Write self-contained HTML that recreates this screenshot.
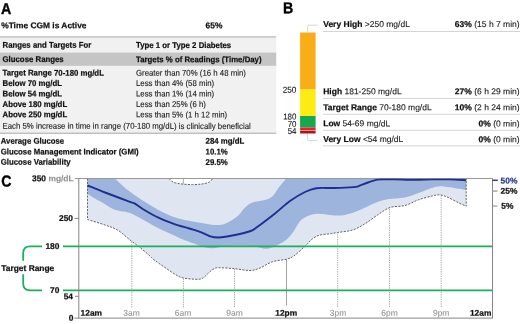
<!DOCTYPE html>
<html>
<head>
<meta charset="utf-8">
<title>AGP Report</title>
<style>
html,body{margin:0;padding:0;background:#fff;}
body{width:520px;height:324px;overflow:hidden;}
svg{display:block;}
text{font-family:"Liberation Sans",Arial,Helvetica,sans-serif;font-size:8.4px;fill:#111;}
text:not([transform]){transform:matrix(1,0.0005,0,1,0,0);}
.b{font-weight:bold;stroke:#111;stroke-width:.22px;}
.g{fill:#1c1c1c;stroke:#1c1c1c;stroke-width:.12px;}
tspan.b{stroke:#111;stroke-width:.22px;}
.lg{fill:#939393;stroke:#939393;stroke-width:.1px;}
.b.lg{fill:#8f8f8f;stroke:#8f8f8f;}
#tbl text,#stats text{font-size:8.4px;}
#panelB text{font-size:8.5px;}
#panelB text.big{font-size:15.8px;}
.big{font-size:15.8px;font-weight:bold;fill:#000;stroke:#000;stroke-width:.35px;}
</style>
</head>
<body>
<svg width="520" height="324" viewBox="0 0 520 324">
<rect width="520" height="324" fill="#fff"/>

<!-- ================= PANEL A ================= -->
<g id="panelA">
<text class="big" transform="translate(0.9 14) scale(0.9 1) matrix(1 0.0005 0 1 0 0)">A</text>
<text class="b" x="1.2" y="28.2">%Time CGM is Active</text>
<text class="b" x="205.6" y="28.2">65%</text>

<rect x="0" y="37" width="276.2" height="96.4" fill="#f1f1f1"/>
<rect x="0" y="52.6" width="276.2" height="13.2" fill="#c5c5c5"/>
<rect x="0" y="36.4" width="276.2" height="1" fill="#a8a8a8"/>
<rect x="0" y="132.7" width="276.2" height="1" fill="#a8a8a8"/>

<g id="tbl" transform="scale(0.93 1)">
<text class="b" x="2.69" y="47.8">Ranges and Targets For</text>
<text class="b" x="146.24" y="47.8">Type 1 or Type 2 Diabetes</text>
<text class="b" x="2.69" y="62.1">Glucose Ranges</text>
<text class="b" x="146.24" y="62.1">Targets % of Readings (Time/Day)</text>

<text class="b" x="2.69" y="75.6">Target Range 70-180 mg/dL</text>
<text class="g" x="146.24" y="75.6">Greater than 70% (16 h 48 min)</text>
<text class="b" x="2.69" y="86.0">Below 70 mg/dL</text>
<text class="g" x="146.24" y="86.0">Less than 4% (58 min)</text>
<text class="b" x="2.69" y="96.4">Below 54 mg/dL</text>
<text class="g" x="146.24" y="96.4">Less than 1% (14 min)</text>
<text class="b" x="2.69" y="106.9">Above 180 mg/dL</text>
<text class="g" x="146.24" y="106.9">Less than 25% (6 h)</text>
<text class="b" x="2.69" y="117.3">Above 250 mg/dL</text>
<text class="g" x="146.24" y="117.3">Less than 5% (1 h 12 min)</text>
<text class="g" x="2.69" y="128.8">Each 5% increase in time in range (70-180 mg/dL) is clinically beneficial</text>
</g>

<g id="stats" transform="scale(0.93 1)">
<text class="b" x="0.75" y="143.7">Average Glucose</text>
<text class="b" x="221.08" y="143.7">284 mg/dL</text>
<text class="b" x="0.75" y="154.5">Glucose Management Indicator (GMI)</text>
<text class="b" x="221.08" y="154.5">10.1%</text>
<text class="b" x="0.75" y="164.8">Glucose Variability</text>
<text class="b" x="221.08" y="164.8">29.5%</text>
</g>
</g>

<!-- ================= PANEL B ================= -->
<g id="panelB">
<text class="big" transform="translate(282.9 13.3) scale(0.9 1) matrix(1 0.0005 0 1 0 0)">B</text>
<!-- connectors -->
<path d="M307.6 32.5 V26.6 Q307.6 25.2 309 25.2 H317.6" fill="none" stroke="#cdcdcd" stroke-width="0.8"/>
<path d="M307.6 133 V139.2 Q307.6 140.6 309 140.6 H317.6" fill="none" stroke="#cdcdcd" stroke-width="0.8"/>
<!-- stacked bar -->
<rect x="300.1" y="32.5" width="15.5" height="57" fill="#f9ae17"/>
<rect x="300.1" y="89.5" width="15.5" height="26.5" fill="#fcec12"/>
<rect x="300.1" y="116" width="15.5" height="11.6" fill="#14a850"/>
<rect x="300.1" y="127.6" width="15.5" height="2.7" fill="#ec2027"/>
<rect x="300.1" y="130.3" width="15.5" height="0.7" fill="#ee857b"/>
<rect x="300.1" y="131" width="15.5" height="2.5" fill="#ab151a"/>
<!-- bar labels -->
<text class="g" transform="translate(296.4 92.8) scale(0.97 1) matrix(1 0.0005 0 1 0 0)" text-anchor="end">250</text>
<text class="g" transform="translate(296.4 119.5) scale(0.93 1) matrix(1 0.0005 0 1 0 0)" text-anchor="end">180</text>
<text class="g" transform="translate(296.4 127.1) scale(0.93 1) matrix(1 0.0005 0 1 0 0)" text-anchor="end">70</text>
<text class="g" transform="translate(296.4 133.9) scale(0.93 1) matrix(1 0.0005 0 1 0 0)" text-anchor="end">54</text>
<!-- rows -->
<g stroke="#c9c9c9" stroke-width="0.8">
<line x1="323" x2="520" y1="31.5" y2="31.5"/>
<line x1="323" x2="520" y1="98.4" y2="98.4"/>
<line x1="323" x2="520" y1="114.3" y2="114.3"/>
<line x1="323" x2="520" y1="130.3" y2="130.3"/>
<line x1="323" x2="520" y1="145.8" y2="145.8"/>
</g>
<text x="323.2" y="26.8" class="g"><tspan class="b" fill="#111">Very High</tspan> &gt;250 mg/dL</text>
<text x="519.6" y="26.8" class="g" text-anchor="end"><tspan class="b" fill="#111">63%</tspan> (15 h 7 min)</text>
<text x="323.2" y="94.1" class="g"><tspan class="b" fill="#111">High</tspan> 181-250 mg/dL</text>
<text x="519.6" y="94.1" class="g" text-anchor="end"><tspan class="b" fill="#111">27%</tspan> (6 h 29 min)</text>
<text x="323.2" y="110.0" class="g"><tspan class="b" fill="#111">Target Range</tspan> 70-180 mg/dL</text>
<text x="519.6" y="110.0" class="g" text-anchor="end"><tspan class="b" fill="#111">10%</tspan> (2 h 24 min)</text>
<text x="323.2" y="126.2" class="g"><tspan class="b" fill="#111">Low</tspan> 54-69 mg/dL</text>
<text x="519.6" y="126.2" class="g" text-anchor="end"><tspan class="b" fill="#111">0%</tspan> (0 min)</text>
<text x="323.2" y="141.9" class="g"><tspan class="b" fill="#111">Very Low</tspan> &lt;54 mg/dL</text>
<text x="519.6" y="141.9" class="g" text-anchor="end"><tspan class="b" fill="#111">0%</tspan> (0 min)</text>
</g>

<!-- ================= PANEL C ================= -->
<g id="panelC">
<text class="big" transform="translate(1.2 186.5) scale(0.9 1) matrix(1 0.0005 0 1 0 0)">C</text>
<defs>
<clipPath id="plot"><rect x="79" y="178.5" width="413.5" height="140"/></clipPath>
</defs>

<!-- gridlines -->
<g stroke="#989898" stroke-width="0.85" stroke-dasharray="1.3 1" fill="none">
<line x1="131.8" x2="131.8" y1="307.4" y2="179"/>
<line x1="183.4" x2="183.4" y1="307.4" y2="179"/>
<line x1="234.5" x2="234.5" y1="307" y2="179"/>
<line x1="337.7" x2="337.7" y1="307" y2="179"/>
<line x1="389.5" x2="389.5" y1="307" y2="179"/>
<line x1="441.2" x2="441.2" y1="307" y2="179"/>
</g>
<line x1="286.5" x2="286.5" y1="305.5" y2="179" stroke="#8c8c8c" stroke-width="0.8"/>
<line x1="183.4" x2="183.4" y1="178.5" y2="184" stroke="#b4b4b4" stroke-width="0.9"/>

<g clip-path="url(#plot)">
<!-- 5-95 band -->
<path id="outer" fill="#dfe6f2" stroke="none"
 d="M87.50 170.00L87.50 219.50C90.42 220.42 100.00 223.25 105.00 225.00 C110.00 226.75 113.33 227.50 117.50 230.00 C121.67 232.50 126.25 237.08 130.00 240.00 C133.75 242.92 136.67 244.83 140.00 247.50 C143.33 250.17 147.50 253.83 150.00 256.00 C152.50 258.17 150.83 257.46 155.00 260.50 C159.17 263.54 170.21 271.33 175.00 274.25 C179.79 277.17 179.92 277.16 183.75 278.00 C187.58 278.84 194.71 279.37 198.00 279.30 C201.29 279.23 201.75 278.65 203.50 277.60 C205.25 276.55 206.92 274.38 208.50 273.00 C210.08 271.62 211.33 270.18 213.00 269.30 C214.67 268.42 214.83 267.79 218.50 267.70 C222.17 267.61 229.75 268.28 235.00 268.75 C240.25 269.22 245.83 270.62 250.00 270.50 C254.17 270.38 256.25 269.46 260.00 268.00 C263.75 266.54 268.12 263.21 272.50 261.75 C276.88 260.29 282.71 260.21 286.25 259.25 C289.79 258.29 290.62 258.17 293.75 256.00 C296.88 253.83 301.88 249.12 305.00 246.25 C308.12 243.38 310.00 240.62 312.50 238.75 C315.00 236.88 317.08 235.83 320.00 235.00 C322.92 234.17 327.08 234.17 330.00 233.75 C332.92 233.33 333.75 233.12 337.50 232.50 C341.25 231.88 347.92 231.46 352.50 230.00 C357.08 228.54 360.83 226.25 365.00 223.75 C369.17 221.25 373.33 217.71 377.50 215.00 C381.67 212.29 385.42 209.08 390.00 207.50 C394.58 205.92 400.25 206.78 405.00 205.50 C409.75 204.22 414.02 201.38 418.50 199.80 C422.98 198.22 428.32 196.82 431.90 196.00 C435.48 195.18 437.32 194.67 440.00 194.90 C442.68 195.13 444.87 196.07 448.00 197.40 C451.13 198.73 455.77 201.43 458.80 202.90 C461.83 204.37 464.97 205.65 466.20 206.20L466.20 170.00L212.70 170.00L212.70 178.50C212.35 178.93 211.47 180.38 210.60 181.10 C209.73 181.82 209.06 182.30 207.50 182.80 C205.94 183.30 203.75 183.80 201.25 184.10 C198.75 184.40 195.62 184.60 192.50 184.60 C189.38 184.60 185.42 184.40 182.50 184.10 C179.58 183.80 176.88 183.33 175.00 182.80 C173.12 182.27 172.22 181.62 171.25 180.90 C170.28 180.18 169.54 178.90 169.20 178.50L169.20 170.00Z"/>
<!-- 25-75 band -->
<path fill="#9db5dc"
 d="M87.50 170.00L87.50 194.00C88.82 194.80 92.42 197.05 95.40 198.80 C98.38 200.55 102.47 202.80 105.40 204.50 C108.33 206.20 110.43 207.87 113.00 209.00 C115.57 210.13 117.97 210.63 120.80 211.30 C123.63 211.97 126.28 211.58 130.00 213.00 C133.72 214.42 138.35 217.25 143.10 219.80 C147.85 222.35 153.38 225.73 158.50 228.30 C163.62 230.87 169.72 233.32 173.80 235.20 C177.88 237.08 179.05 238.00 183.00 239.60 C186.95 241.20 193.83 243.48 197.50 244.80 C201.17 246.12 202.42 246.93 205.00 247.50 C207.58 248.07 210.33 248.28 213.00 248.20 C215.67 248.12 218.17 247.37 221.00 247.00 C223.83 246.63 226.00 246.20 230.00 246.00 C234.00 245.80 240.50 245.63 245.00 245.80 C249.50 245.97 253.67 246.52 257.00 247.00 C260.33 247.48 262.50 248.62 265.00 248.70 C267.50 248.78 269.50 248.32 272.00 247.50 C274.50 246.68 277.42 245.21 280.00 243.75 C282.58 242.29 285.21 240.83 287.50 238.75 C289.79 236.67 291.67 234.17 293.75 231.25 C295.83 228.33 297.71 223.75 300.00 221.25 C302.29 218.75 304.58 217.50 307.50 216.25 C310.42 215.00 313.75 213.96 317.50 213.75 C321.25 213.54 327.08 214.71 330.00 215.00 C332.92 215.29 332.50 215.50 335.00 215.50 C337.50 215.50 340.83 215.92 345.00 215.00 C349.17 214.08 355.00 212.00 360.00 210.00 C365.00 208.00 370.42 204.79 375.00 203.00 C379.58 201.21 382.50 200.18 387.50 199.25 C392.50 198.32 399.83 198.46 405.00 197.40 C410.17 196.34 414.02 194.48 418.50 192.90 C422.98 191.32 428.32 189.02 431.90 187.90 C435.48 186.78 437.08 186.30 440.00 186.20 C442.92 186.10 446.27 186.87 449.40 187.30 C452.53 187.73 456.00 188.37 458.80 188.80 C461.60 189.23 464.97 189.72 466.20 189.90L466.20 170.00L290.00 170.00L290.00 173.00C289.38 173.92 288.12 176.08 286.25 178.50 C284.38 180.92 281.04 184.54 278.75 187.50 C276.46 190.46 274.79 194.17 272.50 196.25 C270.21 198.33 268.33 198.96 265.00 200.00 C261.67 201.04 255.83 201.25 252.50 202.50 C249.17 203.75 247.50 205.21 245.00 207.50 C242.50 209.79 240.83 213.54 237.50 216.25 C234.17 218.96 228.75 222.29 225.00 223.75 C221.25 225.21 219.22 225.16 215.00 225.00 C210.78 224.84 204.00 223.50 199.70 222.80 C195.40 222.10 193.52 221.78 189.20 220.80 C184.88 219.82 178.92 218.70 173.80 216.90 C168.68 215.10 163.62 212.68 158.50 210.00 C153.38 207.32 148.23 204.13 143.10 200.80 C137.97 197.47 131.22 192.63 127.70 190.00 C124.18 187.37 124.12 186.92 122.00 185.00 C119.88 183.08 117.00 180.33 115.00 178.50 C113.00 176.67 110.83 174.75 110.00 174.00L110.00 170.00Z"/>
<!-- dashed boundary of 5-95 -->
<path fill="none" stroke="#5e5e5e" stroke-width="0.95" stroke-dasharray="2.1 1.3"
 d="M87.50 178.50L87.50 219.50C90.42 220.42 100.00 223.25 105.00 225.00 C110.00 226.75 113.33 227.50 117.50 230.00 C121.67 232.50 126.25 237.08 130.00 240.00 C133.75 242.92 136.67 244.83 140.00 247.50 C143.33 250.17 147.50 253.83 150.00 256.00 C152.50 258.17 150.83 257.46 155.00 260.50 C159.17 263.54 170.21 271.33 175.00 274.25 C179.79 277.17 179.92 277.16 183.75 278.00 C187.58 278.84 194.71 279.37 198.00 279.30 C201.29 279.23 201.75 278.65 203.50 277.60 C205.25 276.55 206.92 274.38 208.50 273.00 C210.08 271.62 211.33 270.18 213.00 269.30 C214.67 268.42 214.83 267.79 218.50 267.70 C222.17 267.61 229.75 268.28 235.00 268.75 C240.25 269.22 245.83 270.62 250.00 270.50 C254.17 270.38 256.25 269.46 260.00 268.00 C263.75 266.54 268.12 263.21 272.50 261.75 C276.88 260.29 282.71 260.21 286.25 259.25 C289.79 258.29 290.62 258.17 293.75 256.00 C296.88 253.83 301.88 249.12 305.00 246.25 C308.12 243.38 310.00 240.62 312.50 238.75 C315.00 236.88 317.08 235.83 320.00 235.00 C322.92 234.17 327.08 234.17 330.00 233.75 C332.92 233.33 333.75 233.12 337.50 232.50 C341.25 231.88 347.92 231.46 352.50 230.00 C357.08 228.54 360.83 226.25 365.00 223.75 C369.17 221.25 373.33 217.71 377.50 215.00 C381.67 212.29 385.42 209.08 390.00 207.50 C394.58 205.92 400.25 206.78 405.00 205.50 C409.75 204.22 414.02 201.38 418.50 199.80 C422.98 198.22 428.32 196.82 431.90 196.00 C435.48 195.18 437.32 194.67 440.00 194.90 C442.68 195.13 444.87 196.07 448.00 197.40 C451.13 198.73 455.77 201.43 458.80 202.90 C461.83 204.37 464.97 205.65 466.20 206.20L466.20 178.50"/>
<!-- dipdash -->
<path fill="none" stroke="#5e5e5e" stroke-width="0.95" stroke-dasharray="2.1 1.3"
 d="M169.20 178.50C169.54 178.90 170.28 180.18 171.25 180.90 C172.22 181.62 173.12 182.27 175.00 182.80 C176.88 183.33 179.58 183.80 182.50 184.10 C185.42 184.40 189.38 184.60 192.50 184.60 C195.62 184.60 198.75 184.40 201.25 184.10 C203.75 183.80 205.94 183.30 207.50 182.80 C209.06 182.30 209.73 181.82 210.60 181.10 C211.47 180.38 212.35 178.93 212.70 178.50"/>
</g>

<!-- green target lines -->
<line x1="63" x2="492.5" y1="246.4" y2="246.4" stroke="#1bb05e" stroke-width="1.8"/>
<line x1="63" x2="492.5" y1="290.4" y2="290.4" stroke="#1bb05e" stroke-width="1.8"/>
<!-- bracket -->
<path fill="none" stroke="#1bb05e" stroke-width="1.8" d="M42 246.4 H30 Q23.2 246.4 23.2 253.2 V260.8"/>
<path fill="none" stroke="#1bb05e" stroke-width="1.8" d="M42 290.4 H30 Q23.2 290.4 23.2 283.6 V274.2"/>

<!-- axes -->
<g stroke="#858585" stroke-width="1" fill="none">
<line x1="74.8" x2="492.5" y1="178.5" y2="178.5" stroke="#989898"/>
<line x1="78.8" x2="78.8" y1="178.5" y2="318.2"/>
<line x1="492.5" x2="492.5" y1="178.5" y2="318.2"/>
<line x1="74.5" x2="493" y1="318.1" y2="318.1"/>
<line x1="74.5" x2="79" y1="218.4" y2="218.4"/>
<line x1="75" x2="79" y1="296.3" y2="296.3"/>
<line x1="492.5" x2="497.8" y1="180.3" y2="180.3" stroke="#2b3990" stroke-width="1.5"/>
<line x1="492.5" x2="497.5" y1="191.1" y2="191.1" stroke="#a8a8a8" stroke-width="1.5"/>
<line x1="492.5" x2="497.5" y1="206" y2="206"/>
</g>

<g clip-path="url(#plot)">
<!-- median -->
<path fill="none" stroke="#1d2f8f" stroke-width="1.9" stroke-linejoin="round"
 d="M87.50 185.50C90.42 186.67 97.92 189.78 105.00 192.50 C112.08 195.22 125.08 199.98 130.00 201.80 C134.92 203.62 132.32 202.17 134.50 203.40 C136.68 204.63 139.10 206.82 143.10 209.20 C147.10 211.58 153.38 215.27 158.50 217.70 C163.62 220.13 168.68 222.00 173.80 223.80 C178.92 225.60 184.83 227.17 189.20 228.50 C193.57 229.83 196.53 230.51 200.00 231.80 C203.47 233.09 206.88 235.30 210.00 236.25 C213.12 237.20 214.58 237.71 218.75 237.50 C222.92 237.29 229.79 236.04 235.00 235.00 C240.21 233.96 246.25 232.62 250.00 231.25 C253.75 229.88 253.33 229.76 257.50 226.80 C261.67 223.84 269.58 217.80 275.00 213.50 C280.42 209.20 285.00 204.58 290.00 201.00 C295.00 197.42 300.62 194.13 305.00 192.00 C309.38 189.87 312.08 188.87 316.25 188.20 C320.42 187.53 326.04 188.05 330.00 188.00 C333.96 187.95 335.70 188.08 340.00 187.90 C344.30 187.72 352.40 187.33 355.80 186.90 C359.20 186.47 358.35 186.03 360.40 185.30 C362.45 184.57 365.28 183.45 368.10 182.50 C370.92 181.55 374.32 180.13 377.30 179.60 C380.28 179.07 383.05 179.35 386.00 179.30 C388.95 179.25 390.17 179.22 395.00 179.30 C399.83 179.38 408.75 179.78 415.00 179.80 C421.25 179.82 426.67 179.47 432.50 179.40 C438.33 179.33 444.38 179.27 450.00 179.40 C455.62 179.53 463.50 180.07 466.20 180.20"/>
</g>

<!-- y labels -->
<text class="b" x="46" y="181.2" text-anchor="end">350</text>
<text class="b lg" x="73.6" y="181.2" text-anchor="end">mg/dL</text>
<text class="b" x="73" y="220.9" text-anchor="end">250</text>
<text class="b" x="59.4" y="249.1" text-anchor="end">180</text>
<text class="b" x="59.4" y="293" text-anchor="end">70</text>
<text class="b" x="73" y="299.1" text-anchor="end">54</text>
<text class="b" x="73.5" y="320.8" text-anchor="end">0</text>
<text class="b" x="1.3" y="270.9">Target Range</text>

<!-- right labels -->
<text class="b" x="500.6" y="183.3" style="fill:#2b3990;stroke:#2b3990">50%</text>
<text class="b" x="500.6" y="193.5">25%</text>
<text class="b" x="501.3" y="208.5">5%</text>

<!-- x labels -->
<text class="b" x="80.6" y="315.6">12am</text>
<text class="lg" x="131.5" y="315.6" text-anchor="middle">3am</text>
<text class="lg" x="183" y="315.6" text-anchor="middle">6am</text>
<text class="lg" x="234.5" y="315.6" text-anchor="middle">9am</text>
<text class="b" x="286.2" y="315.6" text-anchor="middle">12pm</text>
<text class="lg" x="338" y="315.6" text-anchor="middle">3pm</text>
<text class="lg" x="389.5" y="315.6" text-anchor="middle">6pm</text>
<text class="lg" x="441.2" y="315.6" text-anchor="middle">9pm</text>
<text class="b" x="491.4" y="315.6" text-anchor="end">12am</text>
</g>
</svg>
</body>
</html>
